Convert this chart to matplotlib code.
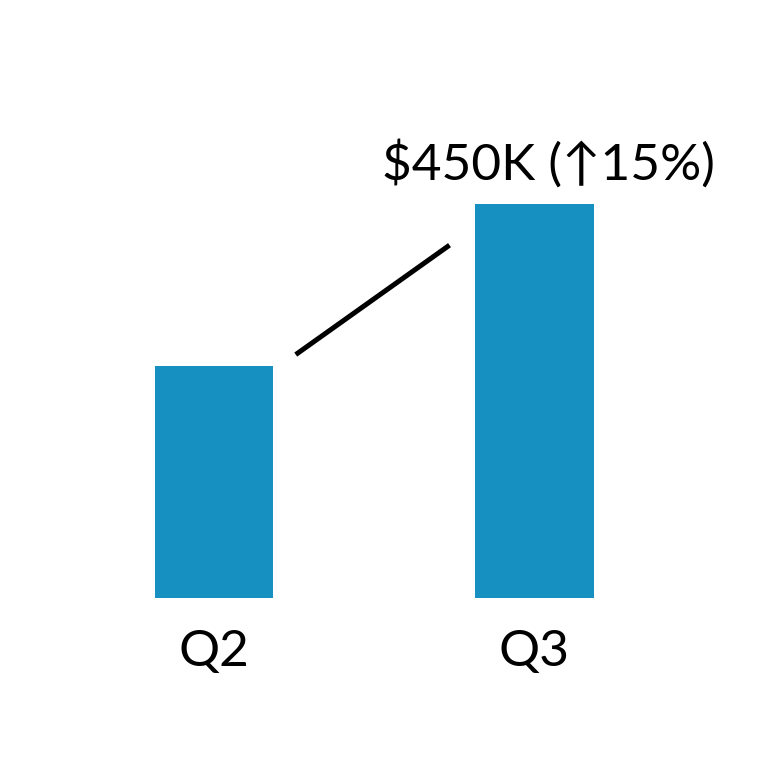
import numpy as np
import matplotlib
matplotlib.use("Agg")
from matplotlib import pyplot as plt

# Data
quarters = ["Q2", "Q3"]
revenue_k = [391, 450]
change_pct = 15
base_k = 306  # axis is truncated, bars start here

plt.rcParams['font.family'] = ['Lato', 'DejaVu Sans']

bar_color = "#168FC1"
bar_width = 0.37

fig = plt.figure(figsize=(7.68, 7.68), dpi=100)
ax = fig.add_axes([0, 0, 1, 1])

x = np.arange(len(quarters))
heights = [v - base_k for v in revenue_k]
ax.bar(x, heights, bottom=base_k, width=bar_width, color=bar_color)

# connector line between the bars
x0 = x[0] + bar_width / 2 + 0.07
x1 = x[1] - bar_width / 2 - 0.08
ax.plot([x0, x1], [revenue_k[0] + 4, revenue_k[1] - 15], color="black", lw=3.6,
        solid_capstyle="butt")

# label above Q3
ax.annotate(f"${revenue_k[1]}K (\u2191{change_pct}%)", xy=(x[1], revenue_k[1]),
            xytext=(10, 18), textcoords="offset points", ha="center",
            va="baseline", fontsize=37, color="black")

ax.set_xticks(x)
ax.set_xticklabels(quarters, fontsize=37)
ax.tick_params(axis="x", length=0, pad=-100, direction="in")
ax.set_yticks([])
for s in ax.spines.values():
    s.set_visible(False)

ax.set_xlim(-0.668, 1.729)
ax.set_ylim(243.9, 524.6)

fig.savefig("out.png", dpi=100)
